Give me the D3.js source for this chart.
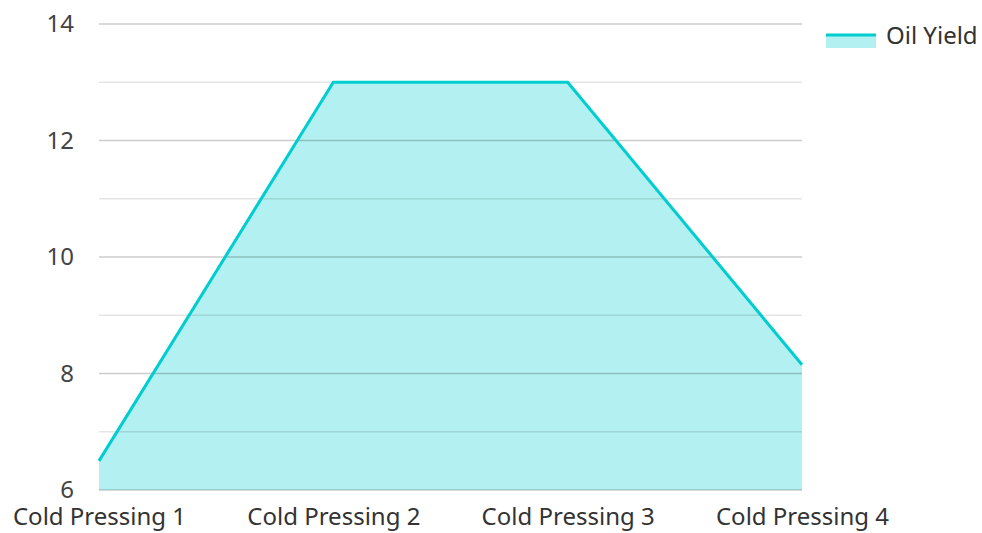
<!DOCTYPE html>
<html>
<head>
<meta charset="utf-8">
<script src="https://cdn.jsdelivr.net/npm/d3@7"></script>
<style>
  body { margin: 0; background: #fff; }
  text { font-family: "Noto Sans", "Open Sans", sans-serif; }
</style>
</head>
<body>
<div id="chart"></div>
<script>
// data
const categories = ["Cold Pressing 1", "Cold Pressing 2", "Cold Pressing 3", "Cold Pressing 4"];
const oilYield = [6.5, 13, 13, 8.15];
const yTicks = [6, 8, 10, 12, 14];
const yMinorTicks = [7, 9, 11, 13];
const seriesName = "Oil Yield";

const width = 982, height = 533;
const margin = { top: 24, right: 180, bottom: 43, left: 99 };
const w = width - margin.left - margin.right;
const h = height - margin.top - margin.bottom;

const svg = d3.select("#chart")
  .append("svg")
    .attr("width", width)
    .attr("height", height);

const g = svg.append("g")
  .attr("transform", `translate(${margin.left},${margin.top})`);

const x = d3.scalePoint()
  .domain(categories)
  .range([0, w]);

const y = d3.scaleLinear()
  .domain([6, 14])
  .range([h, 0]);

const data = categories.map((c, i) => ({ cat: c, val: oilYield[i] }));

// area
const area = d3.area()
  .x(d => x(d.cat))
  .y0(y(6))
  .y1(d => y(d.val));

g.append("path")
  .datum(data)
  .attr("fill", "#00cdd0")
  .attr("fill-opacity", 0.3)
  .attr("d", area);

// grid lines (drawn over the area)
g.selectAll(".minor")
  .data(yMinorTicks)
  .enter()
  .append("line")
    .attr("x1", 0)
    .attr("x2", w)
    .attr("y1", d => y(d))
    .attr("y2", d => y(d))
    .attr("stroke", "#000")
    .attr("stroke-opacity", 0.1)
    .attr("stroke-width", 1.5);

g.selectAll(".major")
  .data(yTicks)
  .enter()
  .append("line")
    .attr("x1", 0)
    .attr("x2", w)
    .attr("y1", d => y(d))
    .attr("y2", d => y(d))
    .attr("stroke", "#000")
    .attr("stroke-opacity", 0.2)
    .attr("stroke-width", 1.5);

// line
const line = d3.line()
  .x(d => x(d.cat))
  .y(d => y(d.val));

g.append("path")
  .datum(data)
  .attr("fill", "none")
  .attr("stroke", "#00cdcf")
  .attr("stroke-width", 3)
  .attr("d", line);

// y axis
const yAxis = g.append("g")
  .call(d3.axisLeft(y).tickValues(yTicks).tickSize(0).tickPadding(25));
yAxis.select(".domain").remove();
yAxis.selectAll("text")
  .style("font-size", "24px")
  .style("font-family", "'Noto Sans', 'Open Sans', sans-serif")
  .attr("fill", "#444");

// x axis
const xAxis = g.append("g")
  .attr("transform", `translate(0,${h})`)
  .call(d3.axisBottom(x).tickSize(0).tickPadding(18));
xAxis.select(".domain").remove();
xAxis.selectAll("text")
  .style("font-size", "24px")
  .style("font-family", "'Noto Sans', 'Open Sans', sans-serif")
  .attr("fill", "#333");

// legend
const legend = svg.append("g")
  .attr("transform", "translate(826,35)");

legend.append("rect")
  .attr("x", 0)
  .attr("y", 0)
  .attr("width", 50)
  .attr("height", 13)
  .attr("fill", "#00cdd0")
  .attr("fill-opacity", 0.3);

legend.append("line")
  .attr("x1", 0)
  .attr("x2", 50)
  .attr("y1", 0)
  .attr("y2", 0)
  .attr("stroke", "#00cdcf")
  .attr("stroke-width", 3);

legend.append("text")
  .attr("x", 60)
  .attr("y", 9)
  .style("font-size", "24px")
  .attr("fill", "#333")
  .text(seriesName);
</script>
</body>
</html>
